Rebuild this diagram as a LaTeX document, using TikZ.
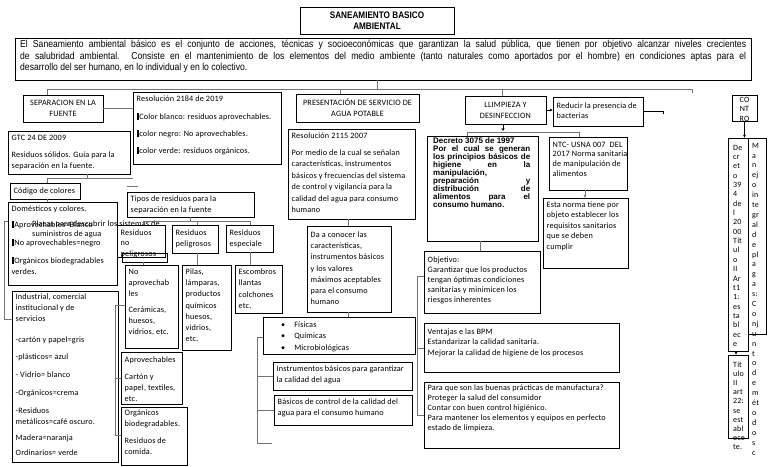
\documentclass[tikz,border=0pt]{standalone}
\usepackage{fontspec}
\setmainfont{Carlito}[LetterSpace=2]
\newfontfamily\parafont[FakeStretch=0.86]{Liberation Sans}
\newfontfamily\arialb{Liberation Sans}
\usetikzlibrary{fit,arrows.meta}
\lineskiplimit=-20pt
\newcommand{\bul}{\rule[-1.3pt]{1.8pt}{7pt}\hspace{0.8pt}}
% name, x1, y1, x2, y2, first-line y, baselineskip, text
\newcommand{\tbox}[8]{%
  \coordinate (#1nw) at (#2,#3);
  \coordinate (#1se) at (#4,#5);
  \node[boxn, fit=(#1nw)(#1se)] (#1) {};
  \node[txt, font=\fontsize{8.2}{#7}\selectfont] (#1t) at ({#2+3.5},{#6-4.1}) {\rule{0pt}{6pt}#8};
}
% name, x1, y1, x2, y2, text (centred)
\newcommand{\hdrbox}[6]{%
  \coordinate (#1nw) at (#2,#3);
  \coordinate (#1se) at (#4,#5);
  \node[boxn, fit=(#1nw)(#1se)] (#1) {};
  \node[htxt] (#1t) at (#1.center) {#6};
}
\begin{document}
\begin{tikzpicture}[x=1pt,y=-1pt,
  boxn/.style={draw=black,line width=0.7pt,inner sep=0pt},
  txt/.style={inner sep=0pt,align=left,anchor=north west},
  htxt/.style={inner sep=0pt,align=center,font=\fontsize{8.2}{11}\selectfont},
  conn/.style={draw=black!55,line width=0.6pt},
  arrowtip/.style={-{Stealth[length=3pt,width=3pt]}}]
\useasboundingbox[fill=white] (0,0) rectangle (768,466);

% ---------- title and paragraph ----------
\coordinate (titlenw) at (300,7); \coordinate (titlese) at (454,34);
\node[boxn, fit=(titlenw)(titlese)] (title) {};
\node[inner sep=0pt, align=center, font=\parafont\bfseries\fontsize{9.5}{11}\selectfont] (titlet) at (title.center) {SANEAMIENTO BASICO\\AMBIENTAL};

\coordinate (paranw) at (15,38); \coordinate (parase) at (751,80);
\node[boxn, fit=(paranw)(parase)] (para) {};
\node[txt, font=\parafont\fontsize{10}{11.5}\selectfont] (parat) at (20,40.1) {\rule{0pt}{7.5pt}\makebox[726pt][s]{El Saneamiento ambiental básico es el conjunto de acciones, técnicas y socioeconómicas que garantizan la salud pública, que tienen por objetivo alcanzar niveles crecientes}\\\makebox[726pt][s]{de salubridad ambiental. Consiste en el mantenimiento de los elementos del medio ambiente (tanto naturales como aportados por el hombre) en condiciones aptas para el}\\desarrollo del ser humano, en lo individual y en lo colectivo.};

% ---------- headers ----------
\hdrbox{sep}{23}{95}{103}{122}{SEPARACION EN LA\\FUENTE}
\hdrbox{pres}{296}{94}{419}{122}{PRESENTACIÓN DE SERVICIO DE\\AGUA POTABLE}
\hdrbox{limp}{465}{96}{546}{124}{LLIMPIEZA Y\\DESINFECCION}

% ---------- left column ----------
\tbox{res2184}{133}{92}{281}{164}{99}{11}{Resolución 2184 de 2019\\[7pt]\bul Color blanco: residuos aprovechables.\\[6pt]\bul color negro: No aprovechables.\\[6pt]\bul color verde: residuos orgánicos.}
\tbox{gtc}{8}{131}{130}{174}{138}{11}{GTC 24 DE 2009\\[6pt]Residuos sólidos. Guía para la\\separación en la fuente.}
\tbox{codigo}{10}{183}{80}{199}{191}{11}{Código de colores}
\tbox{domes}{8}{202}{117}{285}{209}{11}{Domésticos y colores.\\[5pt]\bul Aprovechables=Blanco\\[7pt]\bul No aprovechables=negro\\[7pt]\bul Orgánicos biodegradables\\verdes.}
\node[txt, font=\fontsize{8.2}{10}\selectfont] (placas) at (32,{224-4.1}) {\rule{0pt}{6pt}Placas para descubrir los sistemas de\\suministros de agua};
\tbox{indus}{12}{291}{118}{462}{297}{11}{Industrial, comercial\\institucional y de\\servicios\\[10pt]-cartón y papel=gris\\[6pt]-plásticos= azul\\[7pt]- Vidrio= blanco\\[7pt]-Orgánicos=crema\\[7pt]-Residuos\\metálicos=café oscuro.\\[5pt]Madera=naranja\\[4pt]Ordinarios= verde}

\tbox{tipos}{127}{192}{254}{217}{199}{11}{Tipos de residuos para la\\separación en la fuente}
\tbox{rnp}{117}{225}{165}{257}{233}{10.5}{Residuos\\no\\peligrosos}
\coordinate (rnpbnw) at (122,253); \coordinate (rnpbse) at (167,262);
\node[boxn, fit=(rnpbnw)(rnpbse)] (rnpb) {};
\tbox{rp}{172}{225}{218}{253}{233}{11}{Residuos\\peligrosos}
\tbox{re}{226}{225}{273}{252}{233}{11}{Residuos\\especiale}
\tbox{noap}{125}{265}{178}{348}{272}{11}{No\\aprovechab\\les\\[5pt]Cerámicas,\\huesos,\\vidrios, etc.}
\tbox{pilas}{182}{265}{231}{350}{272}{11.3}{Pilas,\\lámparas,\\productos\\químicos\\huesos,\\vidrios,\\etc.}
\tbox{escom}{235}{265}{282}{313}{272}{11.5}{Escombros\\llantas\\colchones\\etc.}
\tbox{aprov}{121}{352}{182}{404}{360}{11}{Aprovechables\\[6pt]Cartón y\\papel, textiles,\\etc.}
\tbox{organ}{121}{407}{187}{465}{413}{11}{Orgánicos\\biodegradables.\\[6pt]Residuos de\\comida.}

% ---------- water column ----------
\tbox{r2115}{288}{129}{415}{219}{136}{11.5}{Resolución 2115 2007\\[5.5pt]Por medio de la cual se señalan\\características, instrumentos\\básicos y frecuencias del sistema\\de control y vigilancia para la\\calidad del agua para consumo\\humano}
\tbox{daco}{307}{226}{391}{312}{235}{11.3}{Da a conocer las\\características,\\instrumentos básicos\\y los valores\\máximos aceptables\\para el consumo\\humano}
\coordinate (bulnw) at (263,317); \coordinate (bulse) at (415,354);
\node[boxn, fit=(bulnw)(bulse)] (bulb) {};
\node[txt, font=\fontsize{8.2}{11.5}\selectfont] (bulbt) at (281,{325-4.1}) {\rule{0pt}{6pt}•\hspace{9pt}Físicas\\•\hspace{9pt}Químicas\\•\hspace{9pt}Microbiológicas};
\tbox{instr}{273}{362}{412}{390}{369}{11}{Instrumentos básicos para garantizar\\la calidad del agua}
\tbox{basic}{274}{395}{412}{425}{402}{11}{Básicos de control de la calidad del\\agua para el consumo humano}

% ---------- cleaning column ----------
\tbox{reduc}{553}{97}{643}{126}{106}{10.5}{Reducir la presencia de\\bacterias}
\coordinate (decnw) at (427,136); \coordinate (decse) at (538,241);
\node[boxn, line width=0.9pt, fit=(decnw)(decse)] (decreto) {};
\node[txt, font=\arialb\bfseries\fontsize{8}{8}\selectfont] (decretot) at (433,137) {\rule{0pt}{6.2pt}Decreto 3075 de 1997\\\makebox[97pt][s]{Por el cual se generan}\\\makebox[97pt][s]{los principios básicos de}\\\makebox[97pt][s]{higiene en la}\\manipulación,\\\makebox[97pt][s]{preparación y}\\\makebox[97pt][s]{distribución de}\\\makebox[97pt][s]{alimentos para el}\\consumo humano.};
\tbox{objet}{424}{251}{540}{313}{260}{10.2}{Objetivo:\\Garantizar que los productos\\tengan óptimas condiciones\\sanitarias y minimicen los\\riesgos inherentes}
\tbox{venta}{424}{323}{619}{372}{332}{10.5}{Ventajas e las BPM\\Estandarizar la calidad sanitaria.\\Mejorar la calidad de higiene de los procesos}
\tbox{paraq}{424}{382}{619}{448}{388}{10}{Para que son las buenas prácticas de manufactura?\\Proteger la salud del consumidor\\Contar con buen control higiénico.\\Para mantener los elementos y equipos en perfecto\\estado de limpieza.}
\tbox{ntc}{549}{137}{627}{190}{145}{9.7}{NTC- USNA 007 \ DEL\\2017 Norma sanitaria\\de manipulación de\\alimentos}
\tbox{esta}{543}{198}{628}{268}{205}{10.5}{Esta norma tiene por\\objeto establecer los\\requisitos sanitarios\\que se deben\\cumplir}

% ---------- far right ----------
\coordinate (contnw) at (732,95); \coordinate (contse) at (757,121);
\node[boxn, fit=(contnw)(contse)] (cont) {};
\node[inner sep=0pt, align=center, anchor=north, font=\fontsize{8}{9.5}\selectfont] (contt) at (744.5,{100-4.1}) {\rule{0pt}{6pt}CO\\NT\\RO};
\coordinate (dec3nw) at (728,138); \coordinate (dec3se) at (748,351);
\node[boxn, fit=(dec3nw)(dec3se)] (dec3) {};
\node[txt, font=\fontsize{8}{9.35}\selectfont] (dec3t) at (733,{148-4.1}) {\rule{0pt}{6pt}De\\cr\\et\\o\\39\\4\\de\\l\\20\\00\\Tít\\ul\\o\\II\\Ar\\t1\\1:\\es\\ta\\bl\\ec\\e};
\coordinate (manenw) at (748,138); \coordinate (manese) at (766,334);
\node[boxn, fit=(manenw)(manese)] (mane) {};
\node[txt, font=\fontsize{8}{9.9}\selectfont] (manet) at (752,{146-4.1}) {\rule{0pt}{6pt}M\\a\\n\\ej\\o\\in\\te\\gr\\al\\d\\e\\pl\\a\\g\\a\\s:\\C\\o\\nj\\u\\n\\t\\o\\d\\e\\m\\ét\\o\\d\\o\\s\\c};
\coordinate (titunw) at (728,355); \coordinate (tituse) at (748,438);
\node[boxn, fit=(titunw)(tituse)] (titu) {};
\node[txt, font=\fontsize{8}{9.2}\selectfont] (titut) at (733,{365-4.1}) {\rule{0pt}{6pt}Tít\\ulo\\II\\art\\22:\\se\\est\\abl\\ece\\te.};

% ---------- connectors ----------
\coordinate (j0) at (377,89);
\coordinate (busL) at (47,89);
\coordinate (busR) at (692,89);
\coordinate (busRd) at (692,93);
\coordinate (j1) at (340,89);
\coordinate (j2) at (502,89);
\draw[conn] (para.south -| j0) -- (j0);
\draw[conn] (busL) -- (busR) -- (busRd);
\draw[conn] (busL) -- (busL |- sep.north);
\draw[conn] (j1) -- (j1 |- pres.north);
\draw[conn] (j2) -- (j2 |- limp.north);
\draw[conn] (sep.east) -- (sep.east -| res2184.west);

\coordinate (k0) at (87,178);
\coordinate (k1) at (47,178);
\coordinate (k2) at (133,178);
\coordinate (k3) at (127,186);
\coordinate (k4) at (138,186);
\draw[conn] (gtc.south -| k0) -- (k0);
\draw[conn] (k1) -- (k2);
\draw[conn] (k3) -- (k4);
\draw[conn] (k1) -- (k1 |- codigo.north);
\draw[conn] (codigo.south -| k1) -- (k1 |- domes.north);
\coordinate (m1) at (4,221);
\coordinate (m2) at (4,319);
\draw[conn] (domes.west |- m1) -- (m1) -- (m2) -- (m2 -| indus.west);

\coordinate (t0) at (190,221);
\coordinate (t1) at (143,221);
\coordinate (t2) at (197,221);
\coordinate (t3) at (250,221);
\draw[conn] (tipos.south -| t0) -- (t0);
\draw[conn] (t1) -- (t3);
\draw[conn] (t1) -- (t1 |- rnp.north);
\draw[conn] (t2) -- (t2 |- rp.north);
\draw[conn] (t3) -- (t3 |- re.north);
\draw[conn] (rnpb.south -| t1) -- (t1 |- noap.north);
\draw[conn] (rp.south -| t2) -- (t2 |- pilas.north);
\draw[conn] (re.south -| t3) -- (t3 |- escom.north);
\coordinate (b1) at (115,305);
\coordinate (b2) at (115,435);
\coordinate (b3) at (115,378);
\draw[conn] (b1 -| noap.west) -- (b1) -- (b2) -- (b2 -| organ.west);
\draw[conn] (b3) -- (b3 -| aprov.west);

\coordinate (p1) at (348,222);
\draw[conn] (r2115.south -| p1) -- (p1 |- daco.north);
\draw[conn] (daco.south -| p1) -- (p1 |- bulb.north);
\coordinate (q1) at (257,337);
\coordinate (q2) at (257,443);
\coordinate (q3) at (272,443);
\coordinate (q4) at (257,376);
\coordinate (q5) at (257,410);
\draw[conn] (q1 -| bulb.west) -- (q1) -- (q2) -- (q3);
\draw[conn] (q4) -- (q4 -| instr.west);
\draw[conn] (q5) -- (q5 -| basic.west);

\coordinate (l0) at (503,131);
\coordinate (l1) at (467,132);
\coordinate (l2) at (579,132);
\draw[conn, arrowtip, draw=black] (limp.south -| l0) -- (l0);
\draw[conn] (l1) -- (l2);
\draw[conn] (l1) -- (l1 |- decreto.north);
\draw[conn] (l2) -- (l2 |- ntc.north);
\draw[conn, arrowtip, draw=black] (limp.east) -- (limp.east -| reduc.west);
\coordinate (r1) at (663,111);
\coordinate (r2) at (663,114);
\draw[conn, draw=black] (reduc.east |- r1) -- (r1) -- (r2);
\coordinate (d1) at (480,245);
\draw[conn] (decreto.south -| d1) -- (d1 |- objet.north);
\coordinate (s1) at (417,276);
\coordinate (s2) at (417,415);
\coordinate (s3) at (417,348);
\draw[conn] (objet.west |- s1) -- (s1) -- (s2) -- (s2 -| paraq.west);
\draw[conn] (s3) -- (s3 -| venta.west);
\coordinate (n1) at (585,194);
\draw[conn, arrowtip] (ntc.south -| n1) -- (n1 |- esta.north);
\coordinate (c1) at (744.5,130);
\draw[conn, arrowtip, draw=black] (cont.south -| c1) -- (c1 |- dec3.north);
\coordinate (c2) at (736,353);
\draw[conn, arrowtip, draw=black] (dec3.south -| c2) -- (c2 |- titu.north);
\end{tikzpicture}
\end{document}
